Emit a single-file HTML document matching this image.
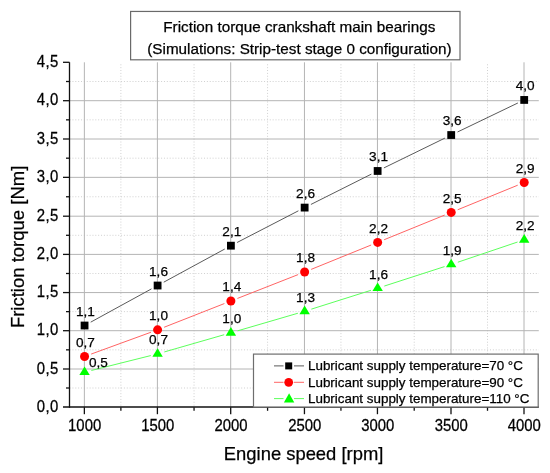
<!DOCTYPE html><html><head><meta charset="utf-8"><title>Friction torque crankshaft main bearings</title>
<style>html,body{margin:0;padding:0;background:#fff;}svg{display:block;}text{font-family:"Liberation Sans", Arial, sans-serif;fill:#000;stroke:#000;stroke-width:0.25px;}</style></head><body>
<svg width="550" height="473" viewBox="0 0 550 473">
<rect x="0" y="0" width="550" height="473" fill="#fff"/>
<g stroke="#d0d0d0" stroke-width="1" stroke-dasharray="1 1.86"><line x1="120.88" y1="64.30" x2="120.88" y2="407.20"/><line x1="194.05" y1="64.30" x2="194.05" y2="407.20"/><line x1="267.57" y1="64.30" x2="267.57" y2="407.20"/><line x1="340.94" y1="64.30" x2="340.94" y2="407.20"/><line x1="414.22" y1="64.30" x2="414.22" y2="407.20"/><line x1="487.50" y1="64.30" x2="487.50" y2="407.20"/><line x1="69.58" y1="388.00" x2="538.80" y2="388.00"/><line x1="69.58" y1="349.85" x2="538.80" y2="349.85"/><line x1="69.58" y1="311.63" x2="538.80" y2="311.63"/><line x1="69.58" y1="273.49" x2="538.80" y2="273.49"/><line x1="69.58" y1="235.30" x2="538.80" y2="235.30"/><line x1="69.58" y1="196.77" x2="538.80" y2="196.77"/><line x1="69.58" y1="158.18" x2="538.80" y2="158.18"/><line x1="69.58" y1="119.85" x2="538.80" y2="119.85"/><line x1="69.58" y1="81.50" x2="538.80" y2="81.50"/></g>
<g stroke="#b4b4b4" stroke-width="1"><line x1="84.36" y1="62.30" x2="84.36" y2="407.20"/><line x1="157.40" y1="62.30" x2="157.40" y2="407.20"/><line x1="230.70" y1="62.30" x2="230.70" y2="407.20"/><line x1="304.44" y1="62.30" x2="304.44" y2="407.20"/><line x1="377.44" y1="62.30" x2="377.44" y2="407.20"/><line x1="451.00" y1="62.30" x2="451.00" y2="407.20"/><line x1="524.00" y1="62.30" x2="524.00" y2="407.20"/><line x1="69.58" y1="369.00" x2="538.80" y2="369.00"/><line x1="69.58" y1="330.70" x2="538.80" y2="330.70"/><line x1="69.58" y1="292.57" x2="538.80" y2="292.57"/><line x1="69.58" y1="254.40" x2="538.80" y2="254.40"/><line x1="69.58" y1="216.20" x2="538.80" y2="216.20"/><line x1="69.58" y1="177.35" x2="538.80" y2="177.35"/><line x1="69.58" y1="139.00" x2="538.80" y2="139.00"/><line x1="69.58" y1="100.70" x2="538.80" y2="100.70"/></g>
<g stroke="#111" stroke-width="1.30" stroke-linecap="butt"><line x1="69.50" y1="62.30" x2="69.50" y2="407.85"/><line x1="63.00" y1="407.00" x2="538.80" y2="407.00"/><line x1="63.00" y1="369.00" x2="69.50" y2="369.00"/><line x1="63.00" y1="330.70" x2="69.50" y2="330.70"/><line x1="63.00" y1="292.57" x2="69.50" y2="292.57"/><line x1="63.00" y1="254.40" x2="69.50" y2="254.40"/><line x1="63.00" y1="216.20" x2="69.50" y2="216.20"/><line x1="63.00" y1="177.35" x2="69.50" y2="177.35"/><line x1="63.00" y1="139.00" x2="69.50" y2="139.00"/><line x1="63.00" y1="100.70" x2="69.50" y2="100.70"/><line x1="63.00" y1="62.30" x2="69.50" y2="62.30"/><line x1="66.00" y1="388.00" x2="69.50" y2="388.00"/><line x1="66.00" y1="349.85" x2="69.50" y2="349.85"/><line x1="66.00" y1="311.63" x2="69.50" y2="311.63"/><line x1="66.00" y1="273.49" x2="69.50" y2="273.49"/><line x1="66.00" y1="235.30" x2="69.50" y2="235.30"/><line x1="66.00" y1="196.77" x2="69.50" y2="196.77"/><line x1="66.00" y1="158.18" x2="69.50" y2="158.18"/><line x1="66.00" y1="119.85" x2="69.50" y2="119.85"/><line x1="66.00" y1="81.50" x2="69.50" y2="81.50"/><line x1="84.36" y1="407.20" x2="84.36" y2="414.20"/><line x1="157.40" y1="407.20" x2="157.40" y2="414.20"/><line x1="230.70" y1="407.20" x2="230.70" y2="414.20"/><line x1="304.44" y1="407.20" x2="304.44" y2="414.20"/><line x1="377.44" y1="407.20" x2="377.44" y2="414.20"/><line x1="451.00" y1="407.20" x2="451.00" y2="414.20"/><line x1="524.00" y1="407.20" x2="524.00" y2="414.20"/><line x1="120.88" y1="407.20" x2="120.88" y2="410.80"/><line x1="194.05" y1="407.20" x2="194.05" y2="410.80"/><line x1="267.57" y1="407.20" x2="267.57" y2="410.80"/><line x1="340.94" y1="407.20" x2="340.94" y2="410.80"/><line x1="414.22" y1="407.20" x2="414.22" y2="410.80"/><line x1="487.50" y1="407.20" x2="487.50" y2="410.80"/></g>
<g style="font-size:14.90px"><text transform="translate(58.9,411.70) scale(1,1.1)" text-anchor="end" letter-spacing="0.5">0,0</text><text transform="translate(58.9,373.70) scale(1,1.1)" text-anchor="end" letter-spacing="0.5">0,5</text><text transform="translate(58.9,335.40) scale(1,1.1)" text-anchor="end" letter-spacing="0.5">1,0</text><text transform="translate(58.9,297.27) scale(1,1.1)" text-anchor="end" letter-spacing="0.5">1,5</text><text transform="translate(58.9,259.10) scale(1,1.1)" text-anchor="end" letter-spacing="0.5">2,0</text><text transform="translate(58.9,220.90) scale(1,1.1)" text-anchor="end" letter-spacing="0.5">2,5</text><text transform="translate(58.9,182.05) scale(1,1.1)" text-anchor="end" letter-spacing="0.5">3,0</text><text transform="translate(58.9,143.70) scale(1,1.1)" text-anchor="end" letter-spacing="0.5">3,5</text><text transform="translate(58.9,105.40) scale(1,1.1)" text-anchor="end" letter-spacing="0.5">4,0</text><text transform="translate(58.9,67.00) scale(1,1.1)" text-anchor="end" letter-spacing="0.5">4,5</text><text transform="translate(84.66,430.7) scale(1,1.1)" text-anchor="middle">1000</text><text transform="translate(157.70,430.7) scale(1,1.1)" text-anchor="middle">1500</text><text transform="translate(231.00,430.7) scale(1,1.1)" text-anchor="middle">2000</text><text transform="translate(304.74,430.7) scale(1,1.1)" text-anchor="middle">2500</text><text transform="translate(377.74,430.7) scale(1,1.1)" text-anchor="middle">3000</text><text transform="translate(451.30,430.7) scale(1,1.1)" text-anchor="middle">3500</text><text transform="translate(524.30,430.7) scale(1,1.1)" text-anchor="middle">4000</text></g>
<text x="303.6" y="459.8" text-anchor="middle" style="font-size:18.40px">Engine speed [rpm]</text>
<text transform="translate(23.6,246.9) rotate(-90)" x="0" y="0" text-anchor="middle" style="font-size:18.50px">Friction torque [Nm]</text>
<g stroke="#5a5a5a" stroke-width="1.00"><line x1="90.70" y1="322.16" x2="151.46" y2="288.88"/><line x1="163.75" y1="282.18" x2="224.75" y2="249.02"/><line x1="237.12" y1="242.47" x2="298.42" y2="210.81"/><line x1="310.90" y1="204.46" x2="371.38" y2="174.11"/><line x1="383.93" y1="167.90" x2="444.91" y2="138.10"/><line x1="457.51" y1="132.00" x2="517.89" y2="102.97"/></g>
<g stroke="#ff6464" stroke-width="1.00"><line x1="91.14" y1="354.08" x2="151.02" y2="332.21"/><line x1="164.11" y1="327.25" x2="224.39" y2="303.56"/><line x1="237.42" y1="298.44" x2="298.12" y2="274.60"/><line x1="311.13" y1="269.40" x2="371.15" y2="245.02"/><line x1="384.12" y1="239.74" x2="444.72" y2="215.06"/><line x1="457.68" y1="209.77" x2="517.72" y2="185.19"/></g>
<g stroke="#5cff5c" stroke-width="1.00"><line x1="91.35" y1="370.48" x2="150.81" y2="355.57"/><line x1="164.33" y1="351.94" x2="224.17" y2="334.73"/><line x1="237.62" y1="330.84" x2="297.92" y2="313.23"/><line x1="311.31" y1="309.16" x2="370.97" y2="290.31"/><line x1="384.30" y1="286.05" x2="444.54" y2="266.60"/><line x1="457.83" y1="262.21" x2="517.57" y2="242.02"/></g>
<rect x="80.66" y="321.62" width="7.80" height="7.80" fill="#000"/><rect x="153.70" y="281.62" width="7.80" height="7.80" fill="#000"/><rect x="227.00" y="241.78" width="7.80" height="7.80" fill="#000"/><rect x="300.74" y="203.70" width="7.80" height="7.80" fill="#000"/><rect x="373.74" y="167.07" width="7.80" height="7.80" fill="#000"/><rect x="447.30" y="131.13" width="7.80" height="7.80" fill="#000"/><rect x="520.30" y="96.04" width="7.80" height="7.80" fill="#000"/><circle cx="84.56" cy="356.48" r="4.50" fill="#ff0000"/><circle cx="157.60" cy="329.81" r="4.50" fill="#ff0000"/><circle cx="230.90" cy="301.00" r="4.50" fill="#ff0000"/><circle cx="304.64" cy="272.04" r="4.50" fill="#ff0000"/><circle cx="377.64" cy="242.38" r="4.50" fill="#ff0000"/><circle cx="451.20" cy="212.42" r="4.50" fill="#ff0000"/><circle cx="524.20" cy="182.54" r="4.50" fill="#ff0000"/><polygon points="84.56,366.45 89.76,375.05 79.36,375.05" fill="#00ff00"/><polygon points="157.60,348.14 162.80,356.74 152.40,356.74" fill="#00ff00"/><polygon points="230.90,327.07 236.10,335.67 225.70,335.67" fill="#00ff00"/><polygon points="304.64,305.54 309.84,314.14 299.44,314.14" fill="#00ff00"/><polygon points="377.64,282.47 382.84,291.07 372.44,291.07" fill="#00ff00"/><polygon points="451.20,258.72 456.40,267.32 446.00,267.32" fill="#00ff00"/><polygon points="524.20,234.04 529.40,242.64 519.00,242.64" fill="#00ff00"/>
<g style="font-size:13.60px"><text x="85.46" y="315.82" text-anchor="middle">1,1</text><text x="158.50" y="275.82" text-anchor="middle">1,6</text><text x="231.80" y="235.98" text-anchor="middle">2,1</text><text x="305.54" y="197.90" text-anchor="middle">2,6</text><text x="378.54" y="161.27" text-anchor="middle">3,1</text><text x="452.10" y="125.33" text-anchor="middle">3,6</text><text x="525.10" y="90.24" text-anchor="middle">4,0</text><text x="85.46" y="346.78" text-anchor="middle">0,7</text><text x="158.50" y="320.11" text-anchor="middle">1,0</text><text x="231.80" y="291.30" text-anchor="middle">1,4</text><text x="305.54" y="262.34" text-anchor="middle">1,8</text><text x="378.54" y="232.68" text-anchor="middle">2,2</text><text x="452.10" y="202.72" text-anchor="middle">2,5</text><text x="525.10" y="172.84" text-anchor="middle">2,9</text><text x="89.0" y="366.6">0,5</text><text x="158.50" y="344.17" text-anchor="middle">0,7</text><text x="231.80" y="323.10" text-anchor="middle">1,0</text><text x="305.54" y="301.57" text-anchor="middle">1,3</text><text x="378.54" y="278.50" text-anchor="middle">1,6</text><text x="452.10" y="254.75" text-anchor="middle">1,9</text><text x="525.10" y="230.08" text-anchor="middle">2,2</text></g>
<rect x="253.50" y="354.10" width="284.70" height="52.90" fill="#fff" stroke="#6e6e6e" stroke-width="1.2"/>
<line x1="274" y1="365.90" x2="283.5" y2="365.90" stroke="#5a5a5a" stroke-width="1"/><line x1="294" y1="365.90" x2="304" y2="365.90" stroke="#5a5a5a" stroke-width="1"/><rect x="285.20" y="362.40" width="7.00" height="7.00" fill="#000"/><text x="308.0" y="370.10" style="font-size:13.40px">Lubricant supply temperature=70 °C</text><line x1="274" y1="382.30" x2="283.5" y2="382.30" stroke="#ff6464" stroke-width="1"/><line x1="294" y1="382.30" x2="304" y2="382.30" stroke="#ff6464" stroke-width="1"/><circle cx="288.70" cy="382.30" r="4.40" fill="#ff0000"/><text x="308.0" y="386.50" style="font-size:13.40px">Lubricant supply temperature=90 °C</text><line x1="274" y1="398.60" x2="283.5" y2="398.60" stroke="#5cff5c" stroke-width="1"/><line x1="294" y1="398.60" x2="304" y2="398.60" stroke="#5cff5c" stroke-width="1"/><polygon points="289.1,393.20 294.3,402.40 283.9,402.40" fill="#00ff00"/><text x="308.0" y="402.80" style="font-size:13.40px">Lubricant supply temperature=110 °C</text>
<rect x="130.6" y="11.45" width="329.4" height="48.35" fill="#fff" stroke="#6a6a6a" stroke-width="1.2"/>
<text x="299.3" y="31.8" text-anchor="middle" style="font-size:15.25px">Friction torque crankshaft main bearings</text>
<text x="299.4" y="54.0" text-anchor="middle" style="font-size:15.25px">(Simulations: Strip-test stage 0 configuration)</text>
</svg></body></html>
